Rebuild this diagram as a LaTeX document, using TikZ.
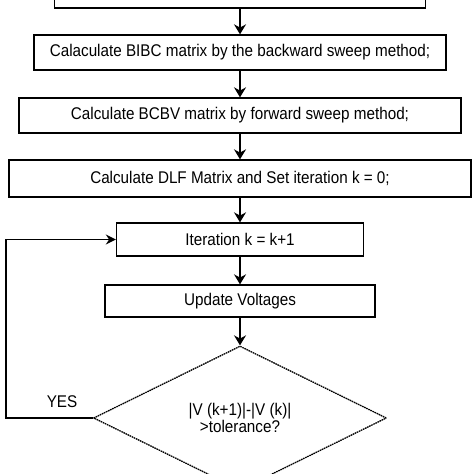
\documentclass[tikz,border=0pt]{standalone}
\usepackage{fontspec}
\setmainfont{Liberation Sans}
\newfontfamily\flowfont[FakeStretch=0.9]{Liberation Sans}
\usetikzlibrary{shapes.geometric,arrows.meta}
\begin{document}
\begin{tikzpicture}[x=1bp,y=-1bp,
                    pbox/.style = {shape = rectangle,
                                   color = black,
                                   line width = 1.3bp,
                                   inner sep = 0pt,
                                   font = \flowfont\fontsize{17}{17}\selectfont,
                                   draw},
                    pdec/.style = {shape = diamond,
                                   color = black,
                                   line width = 1.3bp,
                                   dash pattern = on 1.6bp off 0.7bp,
                                   inner sep = 0pt,
                                   align = center,
                                   font = \flowfont\fontsize{17}{15}\selectfont,
                                   minimum width = 293bp,
                                   minimum height = 144bp,
                                   draw},
                    flow/.style = {-{Stealth[length=10bp,width=12bp]},
                                   line width = 2bp}]
		\clip (0,0) rectangle (474,474);
		\node[pbox, minimum width = 371bp, minimum height = 38bp] (1) at (240,-11) {};
		\node[pbox, minimum width = 412bp, minimum height = 35bp] (2) at (240,52.5)
			{Calaculate BIBC matrix by the backward sweep method;};
		\node[pbox, minimum width = 442bp, minimum height = 35bp] (3) at (240,115.5)
			{Calculate BCBV matrix by forward sweep method;};
		\node[pbox, minimum width = 462bp, minimum height = 37bp] (4) at (240,178.5)
			{Calculate DLF Matrix and Set iteration k = 0;};
		\node[pbox, minimum width = 247bp, minimum height = 33bp] (5) at (240,239.5)
			{Iteration k = k+1};
		\node[pbox, minimum width = 270bp, minimum height = 32bp] (6) at (240,301)
			{Update Voltages};
		\node[pdec] (7) at (240,418) {|V (k+1)|-|V (k)|\\>tolerance?};
		\coordinate (loop) at (6,418);
		\node[font = \flowfont\fontsize{17}{17}\selectfont] (yes) at (62,402) {YES};
		\path (1) edge[flow] (2);
		\path (2) edge[flow] (3);
		\path (3) edge[flow] (4);
		\path (4) edge[flow] (5);
		\path (5) edge[flow] (6);
		\path (6) edge[flow] (7);
		\draw[-{Stealth[length=10bp,width=10bp]}, line width = 1.4bp] (7.west) -- (loop) |- (5.west);
	\end{tikzpicture}
\end{document}
